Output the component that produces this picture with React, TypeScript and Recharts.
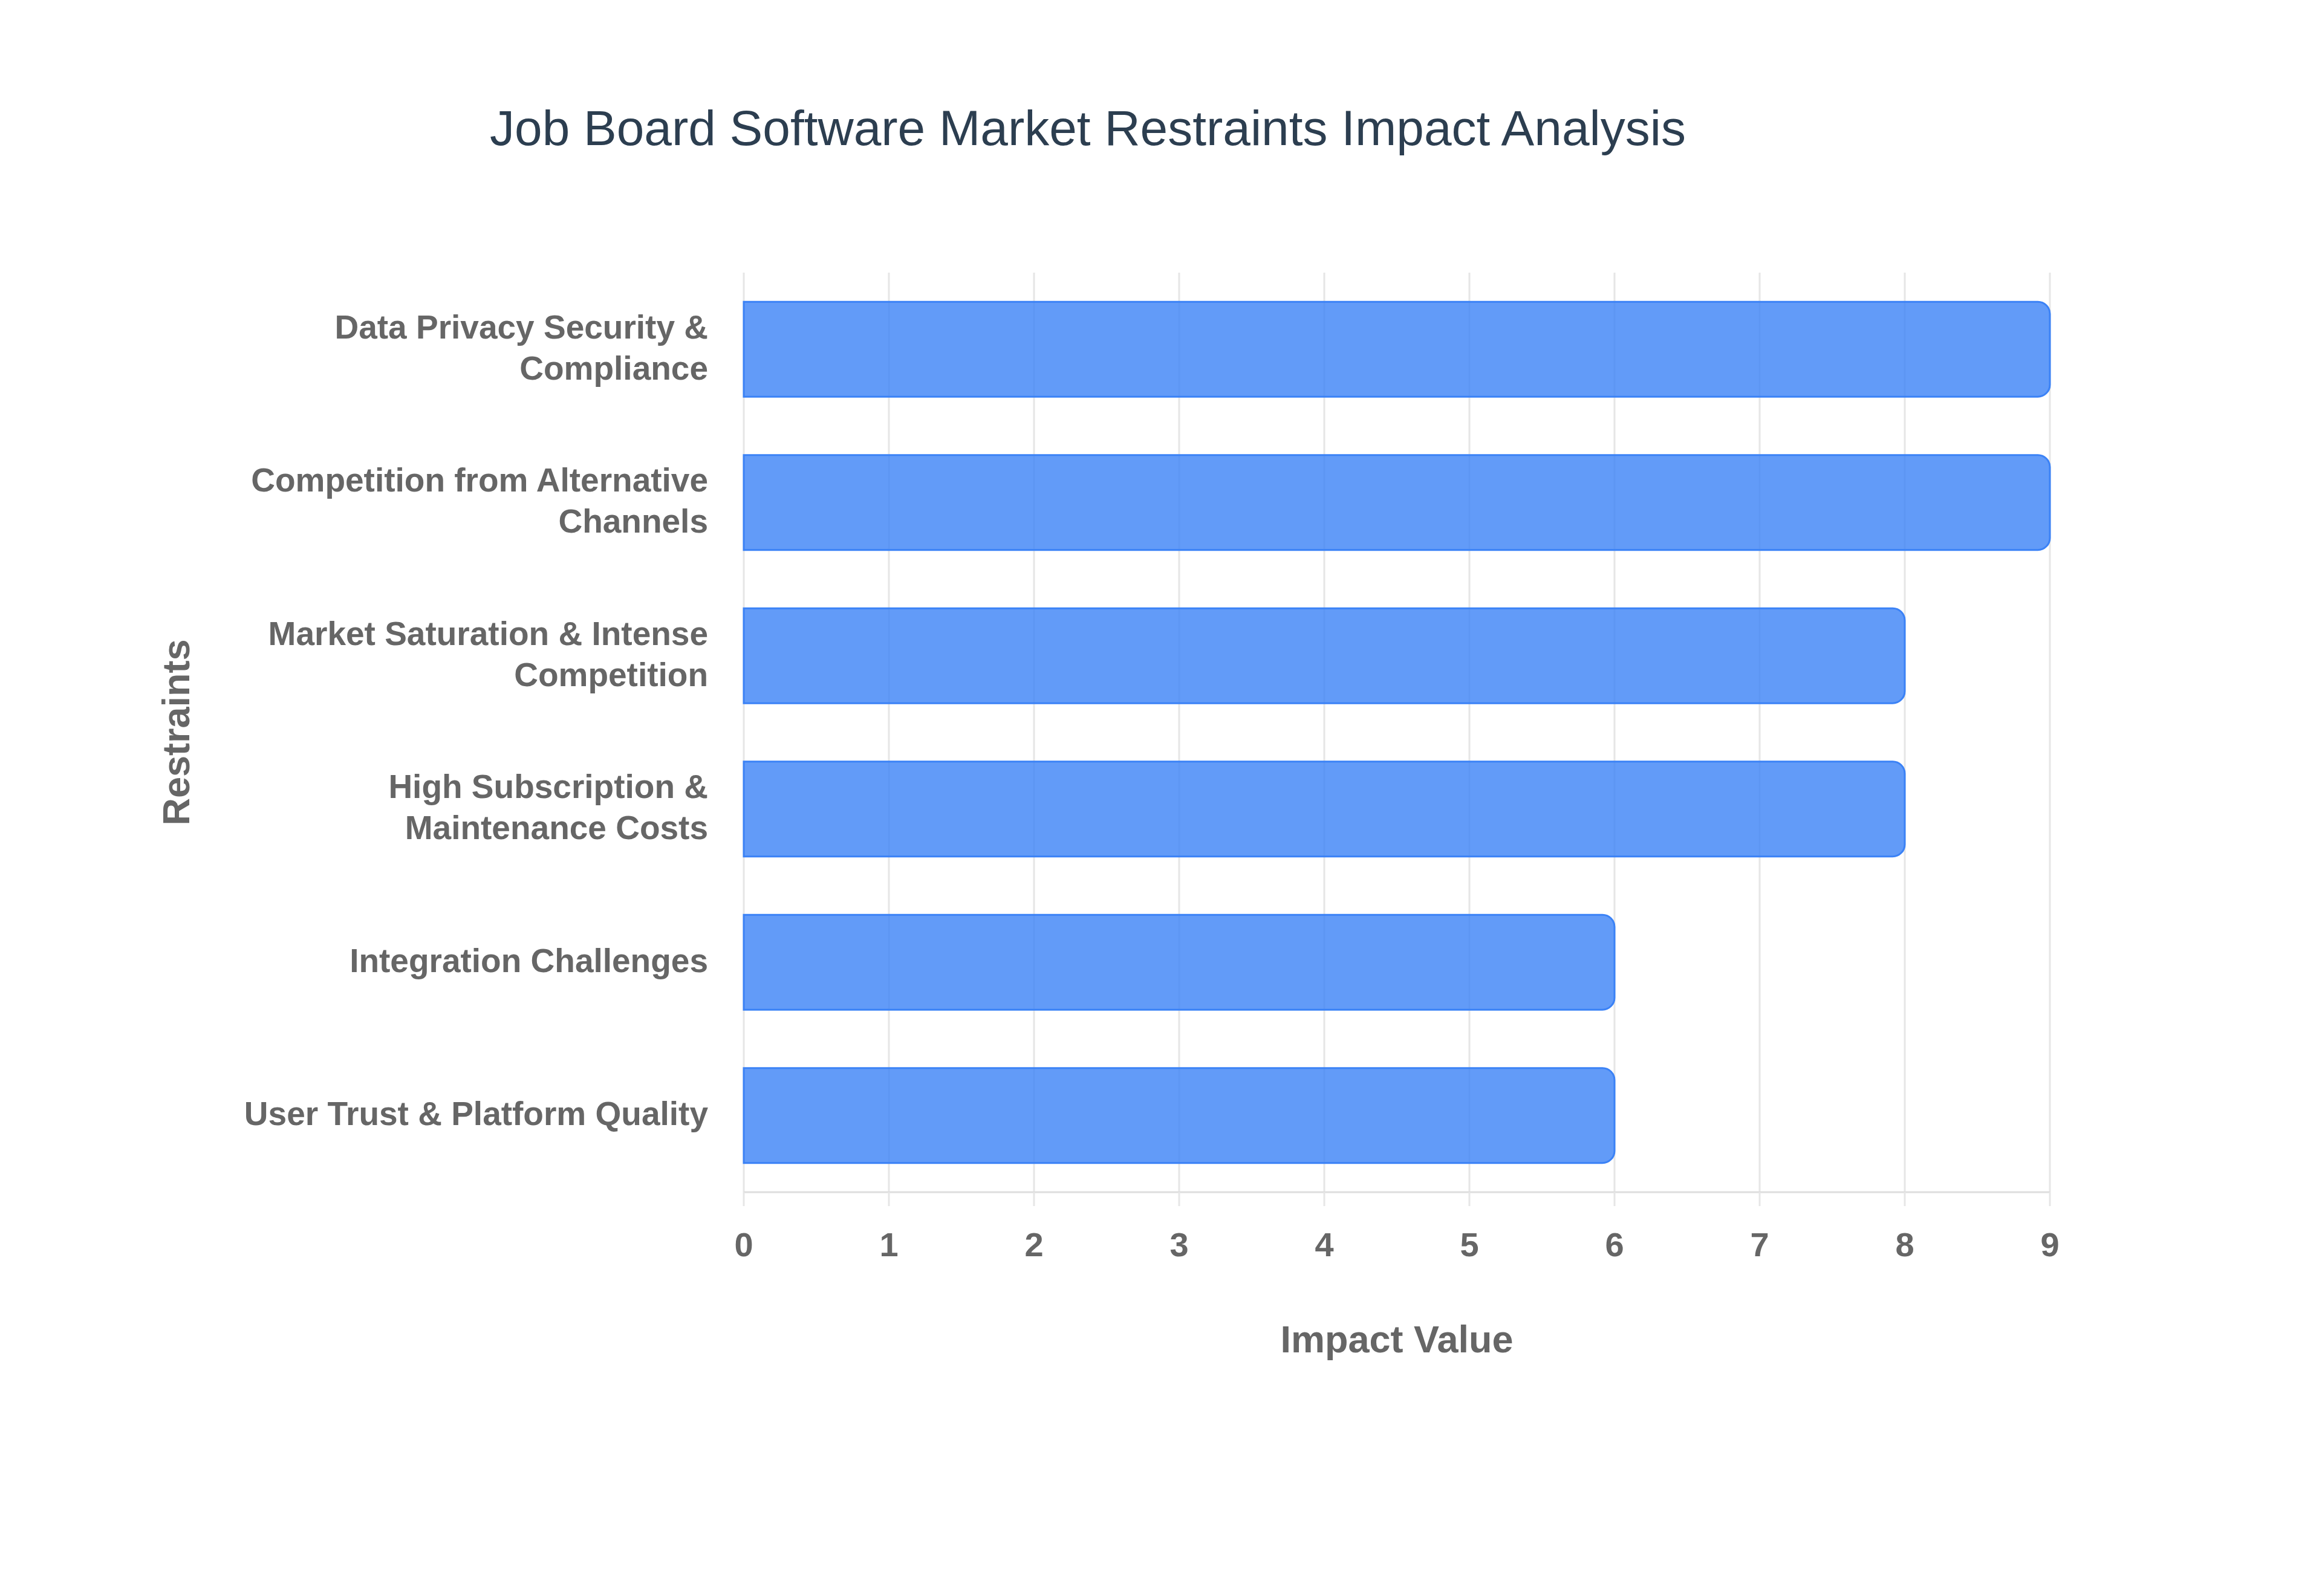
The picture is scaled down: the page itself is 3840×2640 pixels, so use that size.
import React from "react";
import { BarChart, Bar, XAxis, YAxis, CartesianGrid, Label } from "recharts";

const categories = [
  "Data Privacy Security & Compliance",
  "Competition from Alternative Channels",
  "Market Saturation & Intense Competition",
  "High Subscription & Maintenance Costs",
  "Integration Challenges",
  "User Trust & Platform Quality",
];
const impactValues = [9, 9, 8, 8, 6, 6];
const tickLabels = [
  ["Data Privacy Security &", "Compliance"],
  ["Competition from Alternative", "Channels"],
  ["Market Saturation & Intense", "Competition"],
  ["High Subscription &", "Maintenance Costs"],
  ["Integration Challenges"],
  ["User Trust & Platform Quality"],
];
const xTicks = [0, 1, 2, 3, 4, 5, 6, 7, 8, 9];

const data = categories.map((name, i) => ({ name, impact: impactValues[i] }));

const FONT = "'Liberation Sans', Arial, Helvetica, sans-serif";
const GRAY = "#666666";

const CategoryTick = (props: any) => {
  const { x, y, payload } = props;
  const lines = tickLabels[categories.indexOf(payload.value)] || [payload.value];
  const lineHeight = 68;
  const fontSize = 55;
  return (
    <text
      textAnchor="end"
      fill={GRAY}
      fontSize={fontSize}
      fontWeight={700}
      fontFamily={FONT}
    >
      {lines.map((line: string, i: number) => (
        <tspan
          key={i}
          x={x}
          y={y + (i - (lines.length - 1) / 2) * lineHeight + fontSize * 0.36 - 4}
        >
          {line}
        </tspan>
      ))}
    </text>
  );
};

const XTitle = (props: any) => {
  const { x, y, width } = props.viewBox;
  return (
    <text
      x={x + width / 2}
      y={y + 265}
      textAnchor="middle"
      fill={GRAY}
      fontSize={63}
      fontWeight={700}
      fontFamily={FONT}
    >
      Impact Value
    </text>
  );
};

const YTitle = (props: any) => {
  const { y, height } = props.viewBox;
  const cx = 313;
  const cy = y + height / 2;
  return (
    <text
      x={cx}
      y={cy}
      transform={`rotate(-90, ${cx}, ${cy})`}
      textAnchor="middle"
      fill={GRAY}
      fontSize={63}
      fontWeight={700}
      fontFamily={FONT}
    >
      Restraints
    </text>
  );
};

export default function App() {
  return (
    <div
      style={{
        position: "absolute",
        left: 0,
        top: 0,
        width: 3840,
        height: 2640,
        background: "#ffffff",
      }}
    >
      <div
        style={{
          position: "absolute",
          left: 0,
          top: 171,
          width: 3598,
          textAlign: "center",
          fontFamily: FONT,
          fontSize: 82,
          lineHeight: "82px",
          color: "#2c3e50",
          whiteSpace: "nowrap",
        }}
      >
        Job Board Software Market Restraints Impact Analysis
      </div>
      <BarChart
        width={3840}
        height={2640}
        data={data}
        layout="vertical"
        margin={{ top: 451, right: 450, left: 0, bottom: 368 }}
        barCategoryGap="19%"
      >
        <CartesianGrid
          horizontal={false}
          vertical={true}
          stroke="#e6e6e6"
          strokeWidth={3}
        />
        <XAxis
          type="number"
          domain={[0, 9]}
          ticks={xTicks}
          height={300}
          axisLine={{ stroke: "#dedede", strokeWidth: 3 }}
          tickLine={{ stroke: "#e6e6e6", strokeWidth: 3 }}
          tickSize={23}
          tickMargin={43}
          tick={{ fill: GRAY, fontSize: 56, fontWeight: 700, fontFamily: FONT }}
        >
          <Label content={XTitle} />
        </XAxis>
        <YAxis
          type="category"
          dataKey="name"
          width={1230}
          axisLine={false}
          tickLine={false}
          tickSize={0}
          tickMargin={59}
          tick={CategoryTick}
          interval={0}
        >
          <Label content={YTitle} />
        </YAxis>
        <Bar
          dataKey="impact"
          fill="#3b82f6"
          fillOpacity={0.8}
          stroke="#3b82f6"
          strokeWidth={3}
          radius={[0, 20, 20, 0]}
          isAnimationActive={false}
        />
      </BarChart>
    </div>
  );
}
